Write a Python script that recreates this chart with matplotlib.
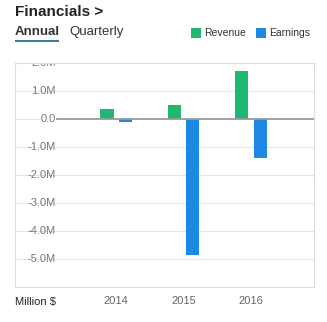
import numpy as np
import matplotlib.pyplot as plt
from matplotlib.patches import Rectangle
from matplotlib.transforms import blended_transform_factory

plt.rcParams['font.family'] = ['Liberation Sans', 'DejaVu Sans']

years = ["2014", "2015", "2016"]
revenue = [0.36, 0.51, 1.71]      # million $
earnings = [-0.12, -4.87, -1.38]  # million $
yticks = [2, 1, 0, -1, -2, -3, -4, -5]
ytick_labels = ["2.0M", "1.0M", "0.0", "-1.0M", "-2.0M", "-3.0M", "-4.0M", "-5.0M"]

green = "#1fb872"
blue = "#1e88e5"

fig = plt.figure(figsize=(3.27, 3.22), dpi=100)
ax = fig.add_axes([15/327, 35/322, 299/327, 224/322])

x = np.arange(len(years))
w = 0.193
ax.bar(x - 0.137, revenue, w, color=green, zorder=3)
ax.bar(x + 0.137, earnings, w, color=blue, zorder=3)

ax.set_xlim(-1.5, 2.93)
ax.set_ylim(-6, 2)

for v in yticks:
    if v != 0:
        ax.axhline(v, color="#e6e6e6", lw=0.8, zorder=1)
ax.axhline(0, xmin=0.0, xmax=0.085, color="#e6e6e6", lw=0.8, zorder=1)
ax.axhline(0, xmin=0.142, xmax=1, color="#9a9a9a", lw=1.3, zorder=4)

trans = blended_transform_factory(ax.transAxes, ax.transData)
for v, lab in zip(yticks, ytick_labels):
    ax.text(0.137, v, lab, transform=trans, ha="right", va="center",
            fontsize=8, color="#777777", clip_on=True, zorder=2)

ax.set_xticks([])
ax.set_yticks([])
for s in ax.spines.values():
    s.set_color("#dddddd")
    s.set_linewidth(0.8)

# bottom labels
for xi, yr in zip(x, years):
    ax.text(xi, -6.5, yr, ha="center", va="center", fontsize=8, color="#666666")
fig.text(15/327, 1 - 302/322, "Million $", ha="left", va="center",
         fontsize=8, color="#222222")

# header
fig.text(15/327, 1 - 12/322, "Financials >", ha="left", va="center",
         fontsize=11, fontweight="bold", color="#222222")
fig.text(15/327, 1 - 32/322, "Annual", ha="left", va="center",
         fontsize=9.5, fontweight="bold", color="#333333")
fig.text(69/327, 1 - 32/322, "Quarterly", ha="left", va="center",
         fontsize=9.5, color="#333333")
fig.add_artist(Rectangle((15/327, 1 - 42/322), 44/327, 2/322,
                         transform=fig.transFigure, color="#3a7ca5", lw=0))

# legend
fig.add_artist(Rectangle((191/327, 1 - 38/322), 10/327, 10/322,
                         transform=fig.transFigure, color=green, lw=0))
fig.text(204/327, 1 - 33/322, "Revenue", ha="left", va="center",
         fontsize=7.5, color="#333333")
fig.add_artist(Rectangle((256/327, 1 - 38/322), 10/327, 10/322,
                         transform=fig.transFigure, color=blue, lw=0))
fig.text(269/327, 1 - 33/322, "Earnings", ha="left", va="center",
         fontsize=7.5, color="#333333")

fig.savefig("out.png", dpi=100, facecolor="white")
